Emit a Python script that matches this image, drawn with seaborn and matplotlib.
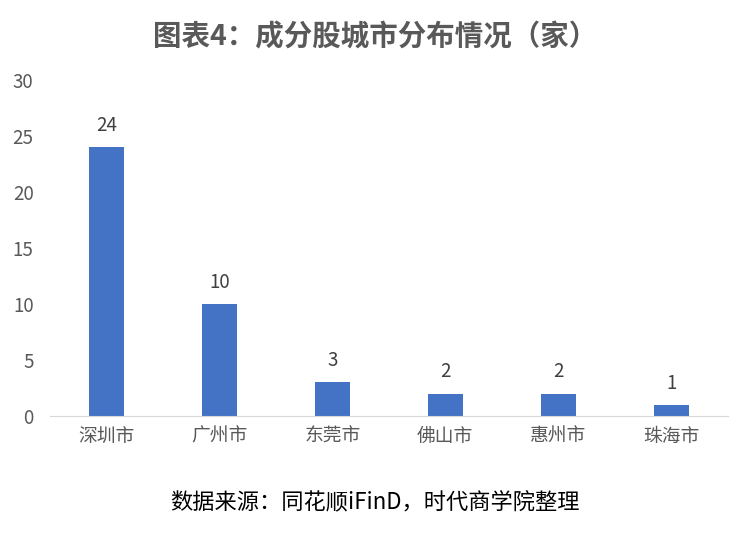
import matplotlib
matplotlib.use("Agg")
import matplotlib.pyplot as plt
import seaborn as sns
import pandas as pd

# Data
cities = ["深圳市", "广州市", "东莞市", "佛山市", "惠州市", "珠海市"]
counts = [24, 10, 3, 2, 2, 1]
title = "图表4：成分股城市分布情况（家）"
source = "数据来源：同花顺iFinD，时代商学院整理"

sns.set_style("white")
plt.rcParams['font.family'] = ['Noto Sans CJK SC', 'DejaVu Sans']

df = pd.DataFrame({"city": cities, "count": counts})

fig = plt.figure(figsize=(7.5, 5.33), dpi=100)
ax = fig.add_axes([0.067, 0.2195, 0.903, 0.631])

sns.barplot(data=df, x="city", y="count", color="#4472C4", width=0.31,
            saturation=1, linewidth=0, ax=ax)

for i, v in enumerate(counts):
    ax.text(i, v + 1.0, str(v), ha="center", va="bottom",
            fontsize=13.5, color="#404040")

ax.set_ylim(0, 30)
ax.set_yticks(range(0, 31, 5))
ax.set_xlim(-0.5, len(cities) - 0.5)
ax.set_xlabel("")
ax.set_ylabel("")
ax.tick_params(axis="both", length=0, labelsize=13.5, labelcolor="#595959")
ax.tick_params(axis="x", pad=7)
ax.tick_params(axis="y", pad=12)
for s in ["top", "right", "left"]:
    ax.spines[s].set_visible(False)
ax.spines["bottom"].set_color("#D9D9D9")

fig.text(0.5, 0.93, title, ha="center", va="center", fontsize=20.5,
         fontweight="bold", color="#595959")
fig.text(0.5, 0.057, source, ha="center", va="center", fontsize=16,
         color="black")

fig.savefig("out.png", dpi=100)
